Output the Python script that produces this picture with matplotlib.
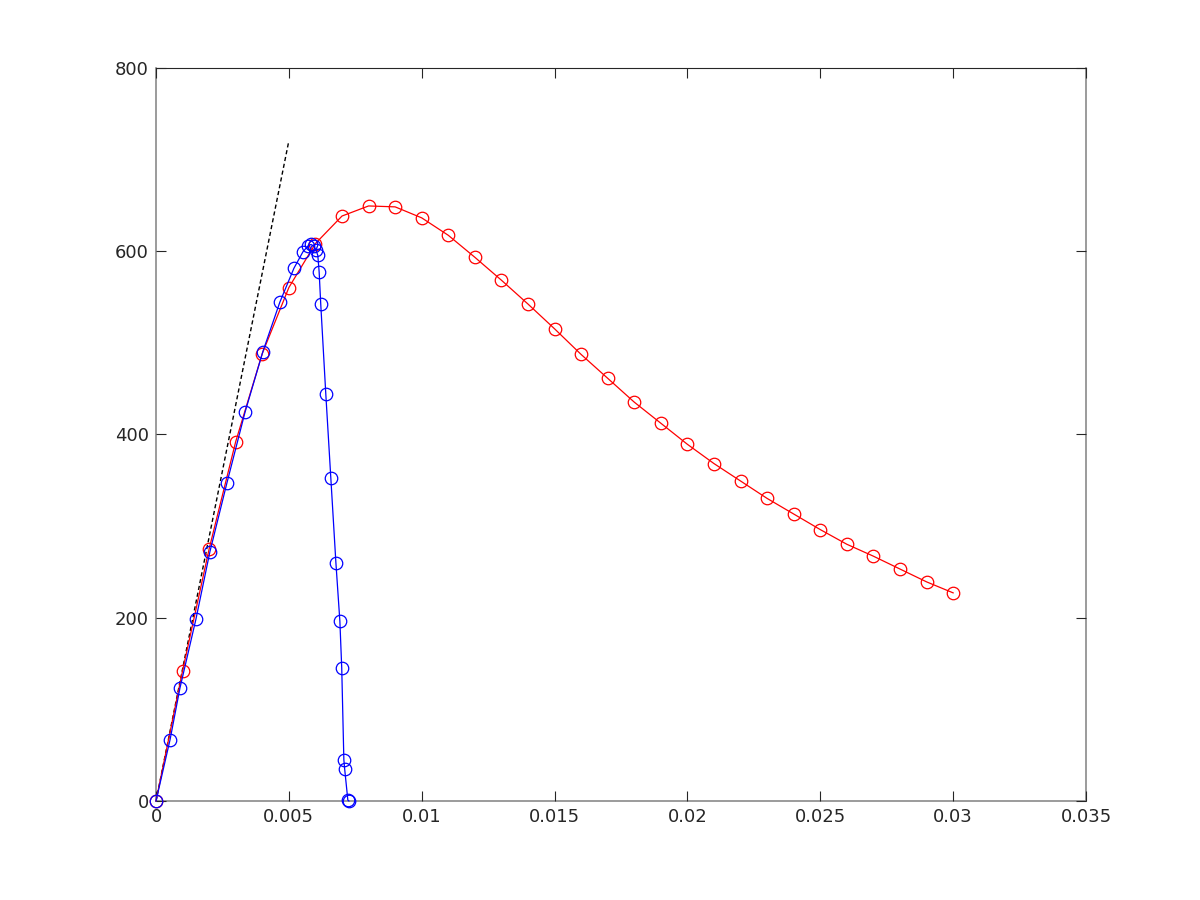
import matplotlib
matplotlib.use('Agg')
import matplotlib.pyplot as plt

# Red curve (regular strain steps)
red_x = [0.000, 0.001, 0.002, 0.003, 0.004, 0.005, 0.006, 0.007, 0.008, 0.009,
         0.010, 0.011, 0.012, 0.013, 0.014, 0.015, 0.016, 0.017, 0.018, 0.019,
         0.020, 0.021, 0.022, 0.023, 0.024, 0.025, 0.026, 0.027, 0.028, 0.029, 0.030]
red_y = [0, 142, 275, 392, 488, 560, 608, 638, 649, 648,
         636, 617, 593, 568, 542, 515, 487, 461, 435, 412,
         389, 368, 349, 330, 313, 296, 280, 267, 253, 239, 227]

# Blue curve (snap-back branch)
blue_x = [0.0, 0.00053, 0.00090, 0.00150, 0.00203, 0.00267, 0.00335, 0.00402,
          0.00466, 0.00519, 0.00553, 0.00571, 0.00583, 0.00594, 0.00602, 0.00609,
          0.00614, 0.00620, 0.00639, 0.00658, 0.00677, 0.00692, 0.00699, 0.00707,
          0.00710, 0.00722, 0.00726]
blue_y = [0, 67, 123, 198, 272, 347, 424, 490,
          544, 581, 599, 605, 607, 605, 601, 595,
          577, 542, 444, 352, 260, 196, 145, 45,
          35, 1, 0]

# Elastic reference line
elastic_x = [0.0, 0.005]
elastic_y = [0, 720]

xticks = [0, 0.005, 0.01, 0.015, 0.02, 0.025, 0.03, 0.035]
xticklabels = ['0', '0.005', '0.01', '0.015', '0.02', '0.025', '0.03', '0.035']
yticks = [0, 200, 400, 600, 800]

fig = plt.figure(figsize=(12, 9), dpi=100)
ax = fig.add_axes([0.13, 0.11, 0.775, 0.815])

ax.plot(elastic_x, elastic_y, 'k--', linewidth=1.0, dashes=(3, 2))
ax.plot(red_x, red_y, '-o', color='red', linewidth=0.9, markersize=9,
        markerfacecolor='none', markeredgewidth=0.9, clip_on=False)
ax.plot(blue_x, blue_y, '-o', color='blue', linewidth=0.9, markersize=9,
        markerfacecolor='none', markeredgewidth=0.9, clip_on=False)

ax.set_xlim(0, 0.035)
ax.set_ylim(0, 800)
ax.set_xticks(xticks)
ax.set_xticklabels(xticklabels)
ax.set_yticks(yticks)

for name, s in ax.spines.items():
    s.set_color('#262626' if name == 'top' else '#8a8a8a')
    s.set_linewidth(1.2 if name != 'top' else 0.8)
    s.set_zorder(0.5)
ax.tick_params(direction='in', length=7, width=0.8, top=True, right=True,
               labelsize=13, colors='#262626', pad=5)

fig.savefig('out.png', dpi=100)
